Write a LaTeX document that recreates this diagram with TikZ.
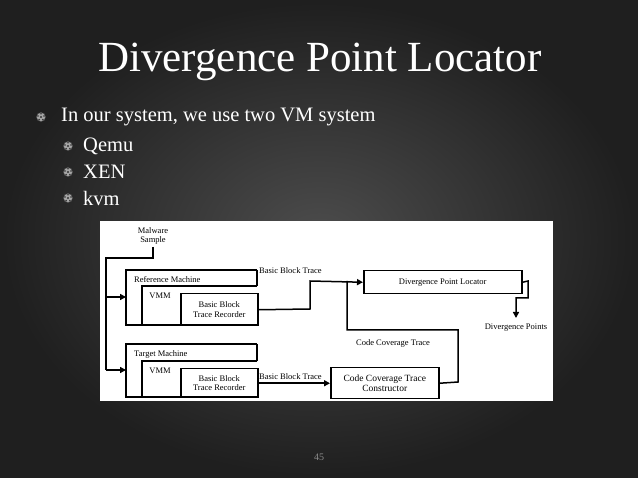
\documentclass[tikz,border=0pt]{standalone}
\usepackage{fontspec}
\setmainfont{Liberation Serif}
\usetikzlibrary{arrows.meta,shadings}
\begin{document}
\begin{tikzpicture}[x=1pt,y=-1pt,
  bx/.style={draw=black,line width=1.5pt},
  ln/.style={draw=black,line width=1.5pt},
  ar/.style={ln,-{Triangle[length=6pt,width=6pt]}},
  lb/.style={font=\fontsize{8.5}{9.5}\selectfont,text=black,inner sep=0pt,align=center},
  bt/.style={text=white,font=\fontsize{20.5}{22}\selectfont,anchor=west,inner sep=0pt},
  ball/.pic={\fill[gray!70] (0,0) circle (4.5pt);\draw[black!70,line width=0.4pt] (0,0) circle (4.5pt);
    \fill[black!80] (0,0) circle (1.2pt);
    \foreach \a in {90,162,234,306,18}{\fill[black!80] (\a:3.2pt) circle (0.9pt);}}]
\useasboundingbox (0,0) rectangle (638,478);
\shade[inner color=black!70,outer color=black!88] (0,0) rectangle (638,478);
\node[text=white,font=\fontsize{43}{45}\selectfont,inner sep=0pt] (title) at (320,62) {Divergence Point Locator};
\pic at (41,117) {ball};
\node[bt] (b1) at (61,117) {In our system, we use two VM system};
\pic at (68,146) {ball};
\node[bt] (b2) at (83,146) {Qemu};
\pic at (68,172) {ball};
\node[bt] (b3) at (83,172) {XEN};
\pic at (68,198) {ball};
\node[bt] (b4) at (83,198) {kvm};
\node[text=black!45,font=\fontsize{10}{11}\selectfont] (pg) at (319,457) {45};
% diagram background
\fill[white] (100,221) rectangle (553,401);
\node[lb] (mal) at (153,236) {Malware\\Sample};
% reference machine
\draw[bx] (257,270) -- (126,270) -- (126,325) -- (257,325);
\draw[bx] (257,286) -- (142,286) -- (142,325);
\node[bx,minimum width=77pt,minimum height=32pt,inner sep=0pt,anchor=north west,lb] (rec1) at (180,293) {Basic Block\\Trace Recorder};
\draw[ln] (257,270) -- (257,286);
\node[lb,anchor=west] (rm) at (134,280) {Reference Machine};
\node[lb] (vmm1) at (160,296) {VMM};
\coordinate (rmin) at (126,297);
% target machine
\draw[bx] (257,344) -- (126,344) -- (126,397) -- (257,397);
\draw[bx] (257,361) -- (142,361) -- (142,397);
\node[bx,minimum width=77pt,minimum height=29pt,inner sep=0pt,anchor=north west,lb] (rec2) at (180,368) {Basic Block\\Trace Recorder};
\draw[ln] (257,344) -- (257,361);
\node[lb,anchor=west] (tm) at (134,354) {Target Machine};
\node[lb] (vmm2) at (160,371) {VMM};
\coordinate (tmin) at (126,370);
% malware lines
\coordinate (j) at (106,258);
\draw[ln] (mal.south) ++(0,2) |- (j) -- (106,370);
\draw[ar] (106,297) -- (rmin);
\draw[ar] (106,370) -- (tmin);
% DPL
\node[bx,minimum width=158pt,minimum height=23pt,inner sep=0pt,anchor=north west,lb] (dpl) at (363,270) {Divergence Point Locator};
\node[bx,minimum width=108pt,minimum height=31pt,inner sep=0pt,anchor=north west,lb,font=\fontsize{9.5}{10.5}\selectfont] (cct) at (330,367) {Code Coverage Trace\\Constructor};
\draw[ar] (rec1.east) -- (310,309) -- (310,281) -- (dpl.west);
\node[lb,anchor=west] (bbt1) at (259,271) {Basic Block Trace};
\draw[ln] (cct.east) -- (458,382) -- (458,330) -- (347,330) -- (347,281);
\node[lb] (cvt) at (393,343) {Code Coverage Trace};
\draw[ar] (rec2.east) -- (cct.west);
\node[lb,anchor=west] (bbt2) at (259,377) {Basic Block Trace};
\coordinate (dp) at (516,318);
\draw[ar] (dpl.east) -- (528,281) -- (528,298) -- (516,298) -- (dp);
\node[lb] (dps) at (516,328) {Divergence Points};
\end{tikzpicture}
\end{document}
